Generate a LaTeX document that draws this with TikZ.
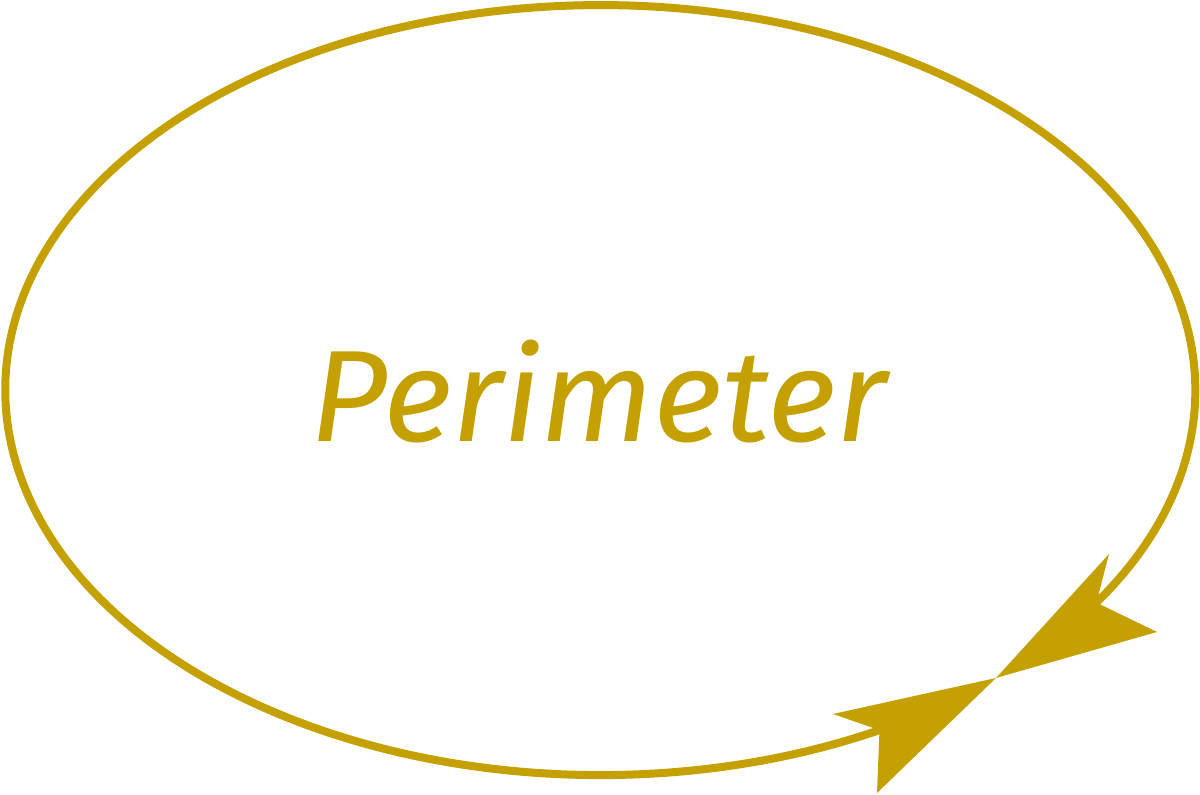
\documentclass[tikz,border=0pt]{standalone}
\usepackage{fontspec}
\setmainfont{Fira Sans}
\definecolor{gold}{HTML}{C4A000}
\begin{document}
\begin{tikzpicture}[x=0.01cm,y=0.01cm,
  rim/.style={draw=gold,line width=8*0.01cm},
  tipfill/.style={fill=gold,draw=none},
  label/.style={text=gold,font=\itshape\fontsize{37}{40}\selectfont,inner sep=0pt,anchor=base,xscale=1.025}]
\useasboundingbox (0,0) rectangle (1200,795);
\coordinate (c) at (600,405);
\coordinate (t) at (996,117);
\coordinate (a1) at (833,81);
\coordinate (n1) at ([shift={(-62:5.95cm and 3.85cm)}]c);
\coordinate (b1) at (877,2);
\coordinate (a2) at (1109,241);
\coordinate (n2) at ([shift={(-33.5:5.95cm and 3.85cm)}]c);
\coordinate (b2) at (1157,163);
\draw[rim] (n2) arc[start angle=-33.5,end angle=298,x radius=595,y radius=385];
\fill[tipfill] (t) -- (a1) -- (n1) -- (b1) -- cycle;
\fill[tipfill] (t) -- (a2) -- (n2) -- (b2) -- cycle;
\node[label] (lbl) at (599,353) {Perimeter};
\end{tikzpicture}
\end{document}
